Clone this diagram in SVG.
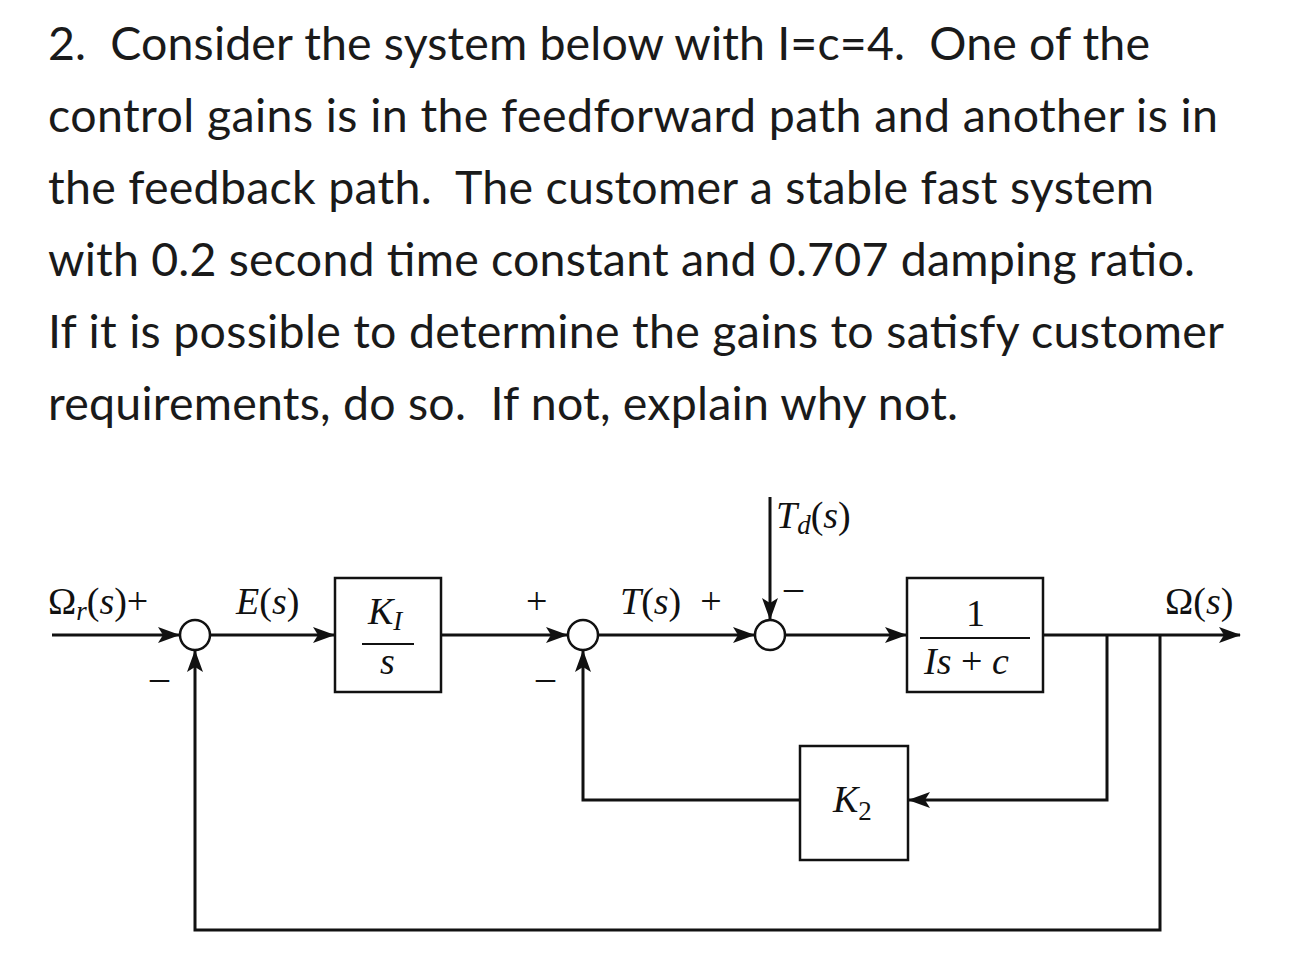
<svg xmlns="http://www.w3.org/2000/svg" width="1290" height="974" viewBox="0 0 1290 974">
<style>
.q{font-family:Lato,"Noto Sans",sans-serif;font-size:46.5px;fill:#1a1a1a;white-space:pre}
.m{font-family:"Liberation Serif",serif;font-size:38px;fill:#111}
.i{font-style:italic}
.ln{stroke:#111;stroke-width:3;fill:none}
.bx{stroke:#111;stroke-width:2.5;fill:#fff}
.sj{stroke:#111;stroke-width:2.5;fill:#fff}
</style>
<defs><marker id="a" markerWidth="22" markerHeight="16" refX="21" refY="8" orient="auto" markerUnits="userSpaceOnUse"><path d="M0,0 L22,8 L0,16 L5,8 Z" fill="#111"/></marker></defs>
<rect width="1290" height="974" fill="#fff"/>
<g id="question" xml:space="preserve">
<text class="q" x="48" y="60" textLength="1102">2.  Consider the system below with I=c=4.  One of the</text>
<text class="q" x="48" y="132" textLength="1170">control gains is in the feedforward path and another is in</text>
<text class="q" x="48" y="204" textLength="1106">the feedback path.  The customer a stable fast system</text>
<text class="q" x="48" y="276" textLength="1147">with 0.2 second time constant and 0.707 damping ratio.</text>
<text class="q" x="48" y="348" textLength="1176">If it is possible to determine the gains to satisfy customer</text>
<text class="q" x="48" y="420" textLength="910">requirements, do so.  If not, explain why not.</text>
</g>
<g id="connectors">
<path class="ln" d="M52,635 H179" marker-end="url(#a)"/>
<path class="ln" d="M210,635 H334" marker-end="url(#a)"/>
<path class="ln" d="M440,635 H567" marker-end="url(#a)"/>
<path class="ln" d="M598,635 H754" marker-end="url(#a)"/>
<path class="ln" d="M785,635 H906" marker-end="url(#a)"/>
<path class="ln" d="M1043,635 H1240" marker-end="url(#a)"/>
<path class="ln" d="M770,497 V619" marker-end="url(#a)"/>
<path class="ln" d="M1107,635 V800 H909" marker-end="url(#a)"/>
<path class="ln" d="M800,800 H583 V651" marker-end="url(#a)"/>
<path class="ln" d="M1160,635 V930 H195 V651" marker-end="url(#a)"/>
</g>
<g id="sum1"><circle class="sj" cx="195" cy="635" r="15"/></g>
<g id="sum2"><circle class="sj" cx="583" cy="635" r="15"/></g>
<g id="sum3"><circle class="sj" cx="770" cy="635" r="15"/></g>
<g id="ki"><rect class="bx" x="335" y="578" width="106" height="114"/>
<text class="m i" x="368" y="624">K<tspan font-size="27" dy="6">I</tspan></text>
<line x1="362" y1="644" x2="414" y2="644" stroke="#111" stroke-width="2"/>
<text class="m i" x="380" y="674">s</text></g>
<g id="plant"><rect class="bx" x="907" y="578" width="136" height="114"/>
<text class="m" x="966" y="626">1</text>
<line x1="920" y1="638" x2="1030" y2="638" stroke="#111" stroke-width="2"/>
<text class="m" x="924" y="674"><tspan class="i">Is</tspan> + <tspan class="i">c</tspan></text></g>
<g id="k2"><rect class="bx" x="800" y="746" width="108" height="114"/>
<text class="m i" x="833" y="812">K<tspan font-size="27" dy="8" font-style="normal">2</tspan></text></g>
<g id="labels">
<text class="m" x="48" y="614">Ω<tspan class="i" font-size="27" dy="6">r</tspan><tspan dy="-6">(</tspan><tspan class="i">s</tspan>)+</text>
<text class="m" x="150" y="690">–</text>
<text class="m" x="236" y="614"><tspan class="i">E</tspan>(<tspan class="i">s</tspan>)</text>
<text class="m" x="526" y="614">+</text>
<text class="m" x="536" y="690">–</text>
<text class="m" x="620" y="614" xml:space="preserve"><tspan class="i">T</tspan>(<tspan class="i">s</tspan>)  +</text>
<text class="m" x="776" y="528"><tspan class="i">T<tspan font-size="27" dy="6">d</tspan></tspan><tspan dy="-6">(</tspan><tspan class="i">s</tspan>)</text>
<text class="m" x="784" y="600">–</text>
<text class="m" x="1165" y="614">Ω(<tspan class="i">s</tspan>)</text>
</g>
</svg>
